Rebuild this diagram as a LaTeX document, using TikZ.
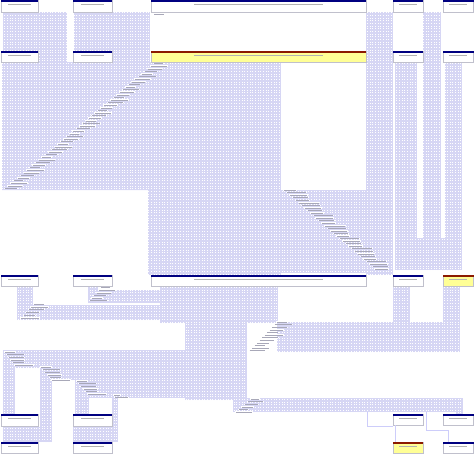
\documentclass[tikz,border=0pt]{standalone}
\usepackage{xcolor}
\definecolor{meshc}{HTML}{D6D6F4}
\definecolor{hdrblue}{HTML}{000080}
\definecolor{hdrred}{HTML}{8B1A00}
\definecolor{boxyel}{HTML}{FFFF96}
\definecolor{lblc}{HTML}{A8A8B8}
\definecolor{boxline}{HTML}{C0C0CC}
\begin{document}
\begin{tikzpicture}[x=1pt,y=-1pt,
  meshgrid/.style={draw=meshc,line width=0.35pt},
  link/.style={draw=meshc!80!blue!60,line width=0.4pt},
  tbl/.style={draw=boxline,line width=0.4pt,inner sep=0pt,outer sep=0pt},
  titlemark/.style={draw=gray!60,line width=0.5pt},
  lblmark/.style={draw=lblc,line width=0.4pt},
  lblback/.style={draw=white,line width=1.4pt}]
\useasboundingbox (0,0) rectangle (474,461);
\newcommand\meshrect[4]{\draw[meshgrid,step=1.6pt] (#1,#2) grid (#3,#4);}
\newcommand\tbox[7]{%
  \pgfmathsetmacro\tbw{#4-#2}\pgfmathsetmacro\tbh{#5-#3}\pgfmathsetmacro\tbm{0.3*(#4-#2)}%
  \node[tbl,fill=#6,anchor=north west,minimum width=\tbw pt,minimum height=\tbh pt] (#1) at (#2,#3) {};%
  \fill[#7] (#1.north west) rectangle ([yshift=-1.8pt]#1.north east);%
  \draw[titlemark] ([yshift=-4pt,xshift=-\tbm pt]#1.north) -- ([yshift=-4pt,xshift=\tbm pt]#1.north);%
}
\newcommand\lblstair[6]{%
  \foreach \i in {0,...,#1}{%
    \pgfmathsetmacro\xx{#2+\i*(#4)}\pgfmathsetmacro\yy{#3+\i*(#5)}%
    \pgfmathsetmacro\ll{#6+mod(\i*7,9)}%
    \draw[lblback] (\xx,\yy) -- ++(\ll+2,0);
    \draw[lblmark] (\xx+1,\yy) -- ++(\ll,0);
  }}
\meshrect{3}{12}{67}{51}
\meshrect{38}{51}{67}{62}
\meshrect{74}{12}{149}{51}
\meshrect{112}{51}{149}{62}
\begin{scope}
  \clip (2,62) -- (281,62) -- (281,275) -- (148,275) -- (148,190) -- (2,190) -- cycle;
  \meshrect{0}{62}{281}{275}
\end{scope}
\meshrect{366}{12}{393}{275}
\meshrect{423}{12}{441}{270}
\meshrect{395}{62}{417}{270}
\meshrect{417}{238}{445}{270}
\meshrect{445}{62}{462}{270}
\meshrect{281}{190}{366}{273}
\meshrect{160}{286}{277}{323}
\meshrect{185}{323}{247}{400}
\meshrect{233}{323}{247}{412}
\meshrect{277}{322}{460}{352}
\meshrect{393}{286}{410}{322}
\meshrect{443}{286}{460}{352}
\meshrect{17}{286}{33}{320}
\meshrect{17}{305}{186}{320}
\meshrect{88}{286}{98}{303}
\meshrect{88}{290}{173}{303}
\meshrect{3}{350}{193}{368}
\meshrect{3}{350}{15}{414}
\meshrect{40}{366}{217}{380}
\meshrect{40}{366}{52}{442}
\meshrect{3}{426}{52}{442}
\meshrect{75}{380}{233}{398}
\meshrect{75}{380}{88}{414}
\meshrect{112}{395}{118}{442}
\meshrect{73}{426}{118}{442}
\meshrect{233}{398}{463}{412}
\meshrect{456}{412}{463}{414}
\lblstair{48}{153}{63.5}{-3.1}{2.6}{9}
\lblstair{31}{283}{190}{2.95}{2.55}{12}
\lblstair{5}{100}{287.5}{-2.2}{2.6}{9}
\lblstair{5}{33}{304}{-2.6}{2.8}{10}
\lblstair{11}{276}{322}{-2.5}{2.6}{10}
\lblstair{5}{4}{352}{2}{2.6}{10}
\lblstair{5}{40}{367}{2.2}{2.6}{10}
\lblstair{5}{76}{381}{2.2}{2.6}{10}
\lblstair{1}{113}{395}{1}{2.5}{6}
\lblstair{5}{250}{399}{-3}{2.6}{8}
\lblstair{0}{153}{14.5}{0}{0}{10}
\tbox{A}{1}{0}{38}{12}{white}{hdrblue}
\tbox{B}{73}{0}{112}{12}{white}{hdrblue}
\tbox{C}{151}{0}{366}{12}{white}{hdrblue}
\tbox{D}{393}{0}{423}{12}{white}{hdrblue}
\tbox{E}{443}{0}{473.5}{12}{white}{hdrblue}
\tbox{F}{1}{51}{38}{62}{white}{hdrblue}
\tbox{G}{73}{51}{112}{62}{white}{hdrblue}
\tbox{H}{151}{51}{366}{62}{boxyel}{hdrred}
\tbox{I}{393}{51}{423}{62}{white}{hdrblue}
\tbox{J}{443}{51}{473.5}{62}{white}{hdrblue}
\tbox{K}{1}{275}{38}{286}{white}{hdrblue}
\tbox{L}{73}{275}{112}{286}{white}{hdrblue}
\tbox{M}{151}{275}{366}{286}{white}{hdrblue}
\tbox{N}{393}{275}{423}{286}{white}{hdrblue}
\tbox{O}{443}{275}{473.5}{286}{boxyel}{hdrred}
\tbox{P}{1}{414}{38}{426}{white}{hdrblue}
\tbox{Q}{73}{414}{112}{426}{white}{hdrblue}
\tbox{R}{393}{414}{423}{425}{white}{hdrblue}
\tbox{S}{443}{414}{473.5}{425}{white}{hdrblue}
\tbox{T}{1}{442}{38}{453}{white}{hdrblue}
\tbox{U}{73}{442}{112}{453}{white}{hdrblue}
\tbox{V}{393}{442}{423}{453}{boxyel}{hdrred}
\tbox{W}{443}{442}{473.5}{453}{white}{hdrblue}
\coordinate (b1) at (367,412);
\coordinate (b2) at (426,412);
\draw[link] (b1) |- ([yshift=-1pt]R.south west);
\draw[link] ([xshift=2pt]R.south west) -- ([xshift=2pt]V.north west);
\draw[link] (b2) |- ([xshift=5pt,yshift=-5pt]S.south west) -- ([xshift=5pt]W.north west);
\end{tikzpicture}
\end{document}
